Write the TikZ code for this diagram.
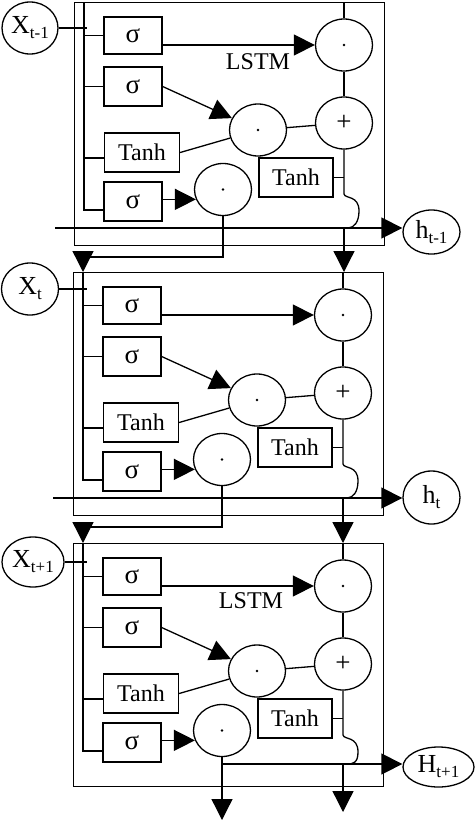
\documentclass[tikz,border=0pt]{standalone}
\usepackage{fontspec}
\setmainfont{Liberation Serif}
\usetikzlibrary{shapes.geometric,arrows.meta}
\tikzset{
  gate/.style={draw, minimum width=58pt, minimum height=37pt, inner sep=0pt, font=\fontsize{24}{26}\selectfont},
  sig/.style={gate, font=\fontsize{27}{28}\selectfont},
  tanhbox/.style={gate, minimum width=75pt, minimum height=39pt},
  op/.style={draw, ellipse, minimum width=57pt, minimum height=52pt, inner sep=0pt, font=\fontsize{27}{28}\selectfont},
  io/.style={draw, ellipse, inner sep=0pt, font=\fontsize{26}{28}\selectfont},
  frame/.style={draw, minimum width=310pt, minimum height=243pt, inner sep=0pt, anchor=north west},
  arr/.style={-{Triangle[length=21pt,width=21pt]}},
  lbl/.style={font=\fontsize{24}{26}\selectfont},
}
\newcommand\sub[1]{\raisebox{-5pt}{\fontsize{17}{17}\selectfont #1}}
\newcommand\lstmblock[2]{%
  \node[frame] (box#1) at (0,0) {};
  \coordinate (bus#1) at (10,0);
  \node[sig] (sa#1) at (59,33.5) {σ};
  \node[sig, minimum height=39pt] (sb#1) at (59,84.5) {σ};
  \node[tanhbox] (ta#1) at (68,150.5) {Tanh};
  \node[sig, minimum height=39pt] (sc#1) at (59,199.5) {σ};
  \node[op] (da#1) at (270,43) {};
  \node[op] (pl#1) at (270,121) {+};
  \node[op] (db#1) at (184,128) {};
  \node[op] (dc#1) at (149,187.5) {};
  \node[tanhbox, minimum width=74pt] (tb#1) at (222,175.5) {Tanh};
  \fill (da#1) circle (1.4pt);
  \fill (db#1) circle (1.4pt);
  \fill (dc#1) circle (1.4pt);
  \coordinate (tw#1) at ([yshift=-5.5pt]ta#1.west);
  \coordinate (sw#1) at ([yshift=-8.5pt]sc#1.west);
  \draw (bus#1) |- (sw#1);
  \draw (bus#1 |- sa#1.west) -- (sa#1.west);
  \draw (bus#1 |- sb#1.west) -- (sb#1.west);
  \draw (bus#1 |- tw#1) -- (tw#1);
  \draw[arr] (sa#1.east |- da#1.west) -- (da#1.west);
  \draw[arr] (sb#1.east) -- (db#1);
  \draw (ta#1.east) -- (db#1);
  \draw[arr] (sc#1.east |- dc#1.200) -- (dc#1.200);
  \draw (db#1) -- (pl#1);
  \draw (da#1) -- (pl#1);
  \draw (da#1.north) -- (da#1.north |- box#1.north);
  \coordinate (bs#1) at (270,192);
  \coordinate (jn#1) at (270,#2);
  \coordinate (be#1) at (274,#2);
  \draw (tb#1.east) -- (tb#1.east -| bs#1);
  \draw (pl#1.south) -- (bs#1) .. controls (271,197) and (285,193) .. (285,209) .. controls (285,220) and (280,#2) .. (be#1);
  \coordinate (kl#1) at (0,255);
  \coordinate (ko#1) at (dc#1.south |- kl#1);
}
\begin{document}
\begin{tikzpicture}[x=1pt,y=-1pt,line width=1.3pt]
\useasboundingbox (0,0) rectangle (474,822);
\begin{scope}[shift={(74,2)}]\lstmblock{1}{226}\node[lbl] (lstma) at (184,60) {LSTM};\end{scope}
\begin{scope}[shift={(73,272)}]\lstmblock{2}{226}\end{scope}
\begin{scope}[shift={(73,543)}]\lstmblock{3}{221}\node[lbl] (lstmb) at (178,58) {LSTM};\end{scope}

\node[io, minimum width=56pt, minimum height=52pt] (x1) at (30,28) {X\sub{t-1}};
\node[io, minimum width=57pt, minimum height=52pt] (x2) at (30,289) {X\sub{t}};
\node[io, minimum width=62pt, minimum height=50pt] (x3) at (33,562) {X\sub{t+1}};
\node[io, minimum width=57pt, minimum height=44pt] (h1) at (431.5,232) {h\sub{t-1}};
\node[io, minimum width=57pt, minimum height=53pt] (h2) at (431.5,497.5) {h\sub{t}};
\node[io, minimum width=71pt, minimum height=40pt] (h3) at (438.5,767) {H\sub{t+1}};

\draw (x1.east) -- (x1.east -| bus1) -- ++(3,0);
\draw (x2.east) -- (x2.east -| bus2) -- ++(4,0);
\draw (x3.east) -- (x3.east -| bus3) -- ++(4,0);

\coordinate (hs1) at (55,228);
\draw[arr] (hs1) -- (hs1 -| h1.west);
\draw[arr] (jn1) -- (jn1 |- box2.north);
\draw[arr] (dc1.south) -- (ko1) -| (bus2);

\coordinate (hs2) at (53,498);
\draw[arr] (hs2) -- (hs2 -| h2.west);
\draw[arr] (jn2) -- (jn2 |- box3.north);
\draw[arr] (dc2.south) -- (ko2) -| (bus3);

\coordinate (hs3) at (dc3.south |- jn3);
\draw[arr] (hs3) -- (hs3 -| h3.west);
\coordinate (end1) at (0,820);
\coordinate (end2) at (0,812);
\draw[arr] (dc3.south) -- (dc3.south |- end1);
\draw[arr] (jn3) -- (jn3 |- end2);
\end{tikzpicture}
\end{document}
